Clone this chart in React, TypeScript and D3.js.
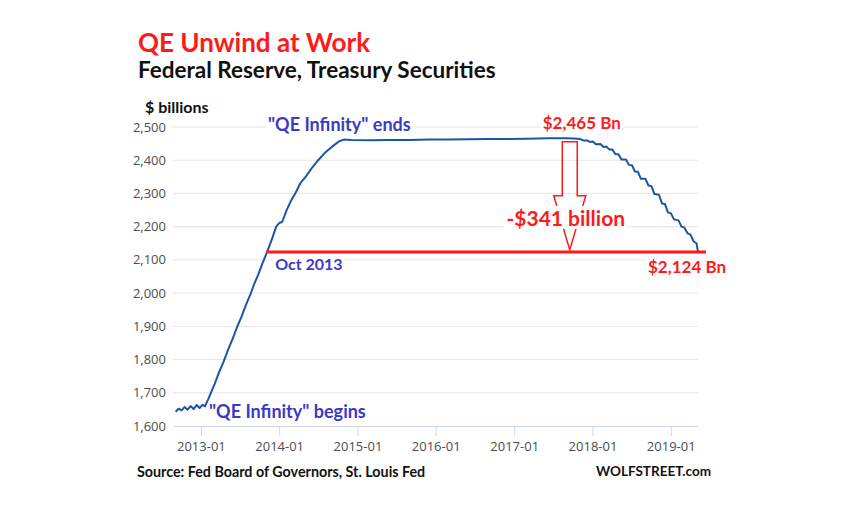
import React, { useRef, useEffect } from 'react';
import * as d3 from 'd3';

// Fed holdings of Treasury securities, $ billions (sampled roughly every 2-4 weeks)
const dates = [
    '2012-09-05', '2012-09-19', '2012-10-03', '2012-10-17', '2012-10-31', '2012-11-14', '2012-11-28',
    '2012-12-12', '2012-12-26', '2013-01-09', '2013-01-20', '2013-02-06', '2013-02-20', '2013-03-06',
    '2013-03-27', '2013-04-17', '2013-05-08', '2013-05-29', '2013-06-19', '2013-07-10', '2013-07-31',
    '2013-08-21', '2013-09-04', '2013-09-25', '2013-10-16', '2013-11-06', '2013-11-27', '2013-12-18',
    '2014-01-01', '2014-01-15', '2014-02-05', '2014-02-26', '2014-03-19', '2014-04-09', '2014-05-07',
    '2014-06-04', '2014-07-02', '2014-07-30', '2014-08-20', '2014-09-17', '2014-10-08', '2014-10-29',
    '2014-12-03', '2015-03-04', '2015-06-03', '2015-09-02', '2015-12-02', '2016-03-02', '2016-06-01',
    '2016-09-07', '2016-12-07', '2017-03-01', '2017-06-07', '2017-09-06', '2017-10-25',
    '2017-11-08', '2017-11-22', '2017-12-06', '2017-12-20', '2018-01-03', '2018-01-17', '2018-02-07',
    '2018-02-21', '2018-03-07', '2018-03-21', '2018-04-04', '2018-04-18', '2018-05-02', '2018-05-16',
    '2018-06-06', '2018-06-20', '2018-07-04', '2018-07-18', '2018-08-01', '2018-08-15', '2018-09-05',
    '2018-09-19', '2018-10-03', '2018-10-17', '2018-11-07', '2018-11-21', '2018-12-05', '2018-12-19',
    '2019-01-02', '2019-01-16', '2019-02-06', '2019-02-20', '2019-03-06', '2019-03-20', '2019-04-03',
    '2019-04-17', '2019-05-01', '2019-05-08',
];
const holdings = [
    1643, 1652, 1647, 1657, 1649, 1660, 1651,
    1663, 1654, 1664, 1659, 1683, 1705, 1726,
    1762, 1794, 1830, 1862, 1898, 1930, 1966,
    1998, 2023, 2055, 2091, 2124, 2160, 2200,
    2211, 2214, 2250, 2279, 2302, 2330, 2352,
    2378, 2400, 2420, 2432, 2447, 2457, 2462,
    2461, 2460, 2461, 2461, 2462, 2462, 2463,
    2464, 2464, 2465, 2466, 2466, 2465,
    2463, 2459, 2460, 2455, 2456, 2448, 2449,
    2440, 2441, 2432, 2432, 2418, 2418, 2402,
    2402, 2386, 2385, 2366, 2365, 2344, 2344,
    2324, 2322, 2298, 2296, 2270, 2268, 2243,
    2240, 2222, 2219, 2200, 2197, 2180, 2176,
    2156, 2150, 2124,
];

const yTicks = [1600, 1700, 1800, 1900, 2000, 2100, 2200, 2300, 2400, 2500];
const xTicks = ['2013-01-01', '2014-01-01', '2015-01-01', '2016-01-01', '2017-01-01', '2018-01-01', '2019-01-01'];

const peakValue = 2465;
const latestValue = 2124;
const startDate = '2012-08-24';
const peakDate = '2017-09-17';   // where the drop arrow sits
const baselineDate = '2013-11-06'; // holdings first hit today's level

const RED = '#ff1a1a';
const BLUE_TEXT = '#3a3ac4';
const LABEL_FONT = 'Lato, "Open Sans", sans-serif';

const TreasuryChart = () => {
    const ref = useRef<SVGSVGElement>(null);

    useEffect(() => {
        const svg = d3.select(ref.current);
        svg.selectAll('*').remove();

        const parse = d3.timeParse('%Y-%m-%d');
        const data = dates.map((d, i) => ({ date: parse(d) as Date, value: holdings[i] }));

        const margin = { top: 127, right: 152, bottom: 84, left: 173 };
        const width = 850 - margin.left - margin.right;
        const height = 510 - margin.top - margin.bottom;

        svg.append('rect').attr('width', 850).attr('height', 510).attr('fill', '#fff');

        const xScale = d3.scaleTime()
            .domain([parse(startDate) as Date, data[data.length - 1].date])
            .range([margin.left, margin.left + width]);

        const yScale = d3.scaleLinear()
            .domain([1600, 2500])
            .range([margin.top + height, margin.top]);

        const g = svg.append('g');

        // --- Grid lines ---
        g.append('g')
            .selectAll('line')
            .data(yTicks.slice(1))
            .enter()
            .append('line')
            .attr('x1', margin.left)
            .attr('x2', margin.left + width)
            .attr('y1', d => yScale(d))
            .attr('y2', d => yScale(d))
            .attr('stroke', '#e6e6e6')
            .attr('stroke-width', 1);

        // --- Y axis labels ---
        g.append('g')
            .selectAll('text')
            .data(yTicks)
            .enter()
            .append('text')
            .attr('x', margin.left - 7)
            .attr('y', d => yScale(d) + 4.5)
            .attr('text-anchor', 'end')
            .attr('font-family', '"Open Sans", sans-serif')
            .attr('font-size', 13)
            .attr('fill', '#4d4d4d')
            .text(d => d3.format(',')(d));

        // --- X axis (highcharts-ish bluish baseline + ticks) ---
        const xAxis = g.append('g')
            .attr('transform', `translate(0,${margin.top + height})`)
            .call(d3.axisBottom(xScale)
                .tickValues(xTicks.map(t => parse(t) as Date))
                .tickSize(10)
                .tickSizeOuter(0)
                .tickPadding(6)
                .tickFormat(d => d3.timeFormat('%Y-%m')(d as Date)));
        xAxis.select('.domain').attr('stroke', '#ccd6eb');
        xAxis.selectAll('.tick line').attr('stroke', '#ccd6eb');
        xAxis.selectAll('.tick text')
            .attr('font-family', '"Open Sans", sans-serif')
            .attr('font-size', 13)
            .attr('fill', '#4d4d4d');

        // text with a white box behind it, so grid lines break around it
        const label = (x: number, y: number, text: string, color: string, size: number, anchor = 'start') => {
            const t = g.append('text')
                .attr('x', x)
                .attr('y', y)
                .attr('text-anchor', anchor)
                .attr('font-family', LABEL_FONT)
                .attr('font-weight', 700)
                .attr('font-size', size)
                .attr('fill', color)
                .text(text);
            const b = (t.node() as SVGTextElement).getBBox();
            g.insert('rect', () => t.node() as SVGTextElement)
                .attr('x', b.x - 2)
                .attr('y', b.y + 1)
                .attr('width', b.width + 4)
                .attr('height', b.height - 2)
                .attr('fill', '#fff');
        };

        // blue labels sit under the data line
        label(268, yScale(2500) + 4, '"QE Infinity" ends', BLUE_TEXT, 18);
        label(209, yScale(1600) - 8, '"QE Infinity" begins', BLUE_TEXT, 18);
        label(xScale(parse(baselineDate) as Date) + 8, yScale(latestValue) + 18, 'Oct 2013', BLUE_TEXT, 16);

        // --- Holdings line ---
        const line = d3.line<{ date: Date; value: number }>()
            .x(d => xScale(d.date))
            .y(d => yScale(d.value));

        g.append('path')
            .datum(data)
            .attr('fill', 'none')
            .attr('stroke', '#1d55a5')
            .attr('stroke-width', 2)
            .attr('stroke-linejoin', 'round')
            .attr('d', line);

        // --- Red level line at current holdings ---
        g.append('line')
            .attr('x1', xScale(parse(baselineDate) as Date) - 1)
            .attr('x2', margin.left + width + 8)
            .attr('y1', yScale(latestValue))
            .attr('y2', yScale(latestValue))
            .attr('stroke', RED)
            .attr('stroke-width', 3);

        // --- Hollow block arrow from peak down to current level ---
        const ax = xScale(parse(peakDate) as Date);
        const top = yScale(peakValue) + 3;
        const tip = yScale(latestValue) - 2;
        const neck = top + 54;
        const arrow = d3.path();
        arrow.moveTo(ax - 7.5, top);
        arrow.lineTo(ax + 7.5, top);
        arrow.lineTo(ax + 7.5, neck);
        arrow.lineTo(ax + 16, neck);
        arrow.lineTo(ax, tip);
        arrow.lineTo(ax - 16, neck);
        arrow.lineTo(ax - 7.5, neck);
        arrow.closePath();
        g.append('path')
            .attr('d', arrow.toString())
            .attr('fill', 'none')
            .attr('stroke', RED)
            .attr('stroke-width', 1.5);

        label(ax - 27, yScale(peakValue) - 10, `$${d3.format(',')(peakValue)} Bn`, RED, 17);
        label(ax - 4, yScale(latestValue) - 26, `-$${peakValue - latestValue} billion`, RED, 21, 'middle');
        label(648, yScale(latestValue) + 21, `$${d3.format(',')(latestValue)} Bn`, RED, 17);

        // --- Titles and footer ---
        const text = (x: number, y: number, s: string, size: number, color: string) =>
            svg.append('text')
                .attr('x', x)
                .attr('y', y)
                .attr('font-family', LABEL_FONT)
                .attr('font-weight', 700)
                .attr('font-size', size)
                .attr('fill', color)
                .text(s);

        text(138, 52, 'QE Unwind at Work', 26, RED);
        text(138, 78, 'Federal Reserve, Treasury Securities', 22.5, '#111');
        text(145, 113, '$ billions', 16, '#111');
        text(137, 477, 'Source: Fed Board of Governors, St. Louis Fed', 14.3, '#111');
        text(596, 476, 'WOLFSTREET.com', 13.5, '#111');
    }, []);

    return (
        <svg ref={ref} width={850} height={510}
            style={{ position: 'absolute', left: 0, top: 0, display: 'block' }} />
    );
};

export default function App() {
    return <TreasuryChart />;
}
